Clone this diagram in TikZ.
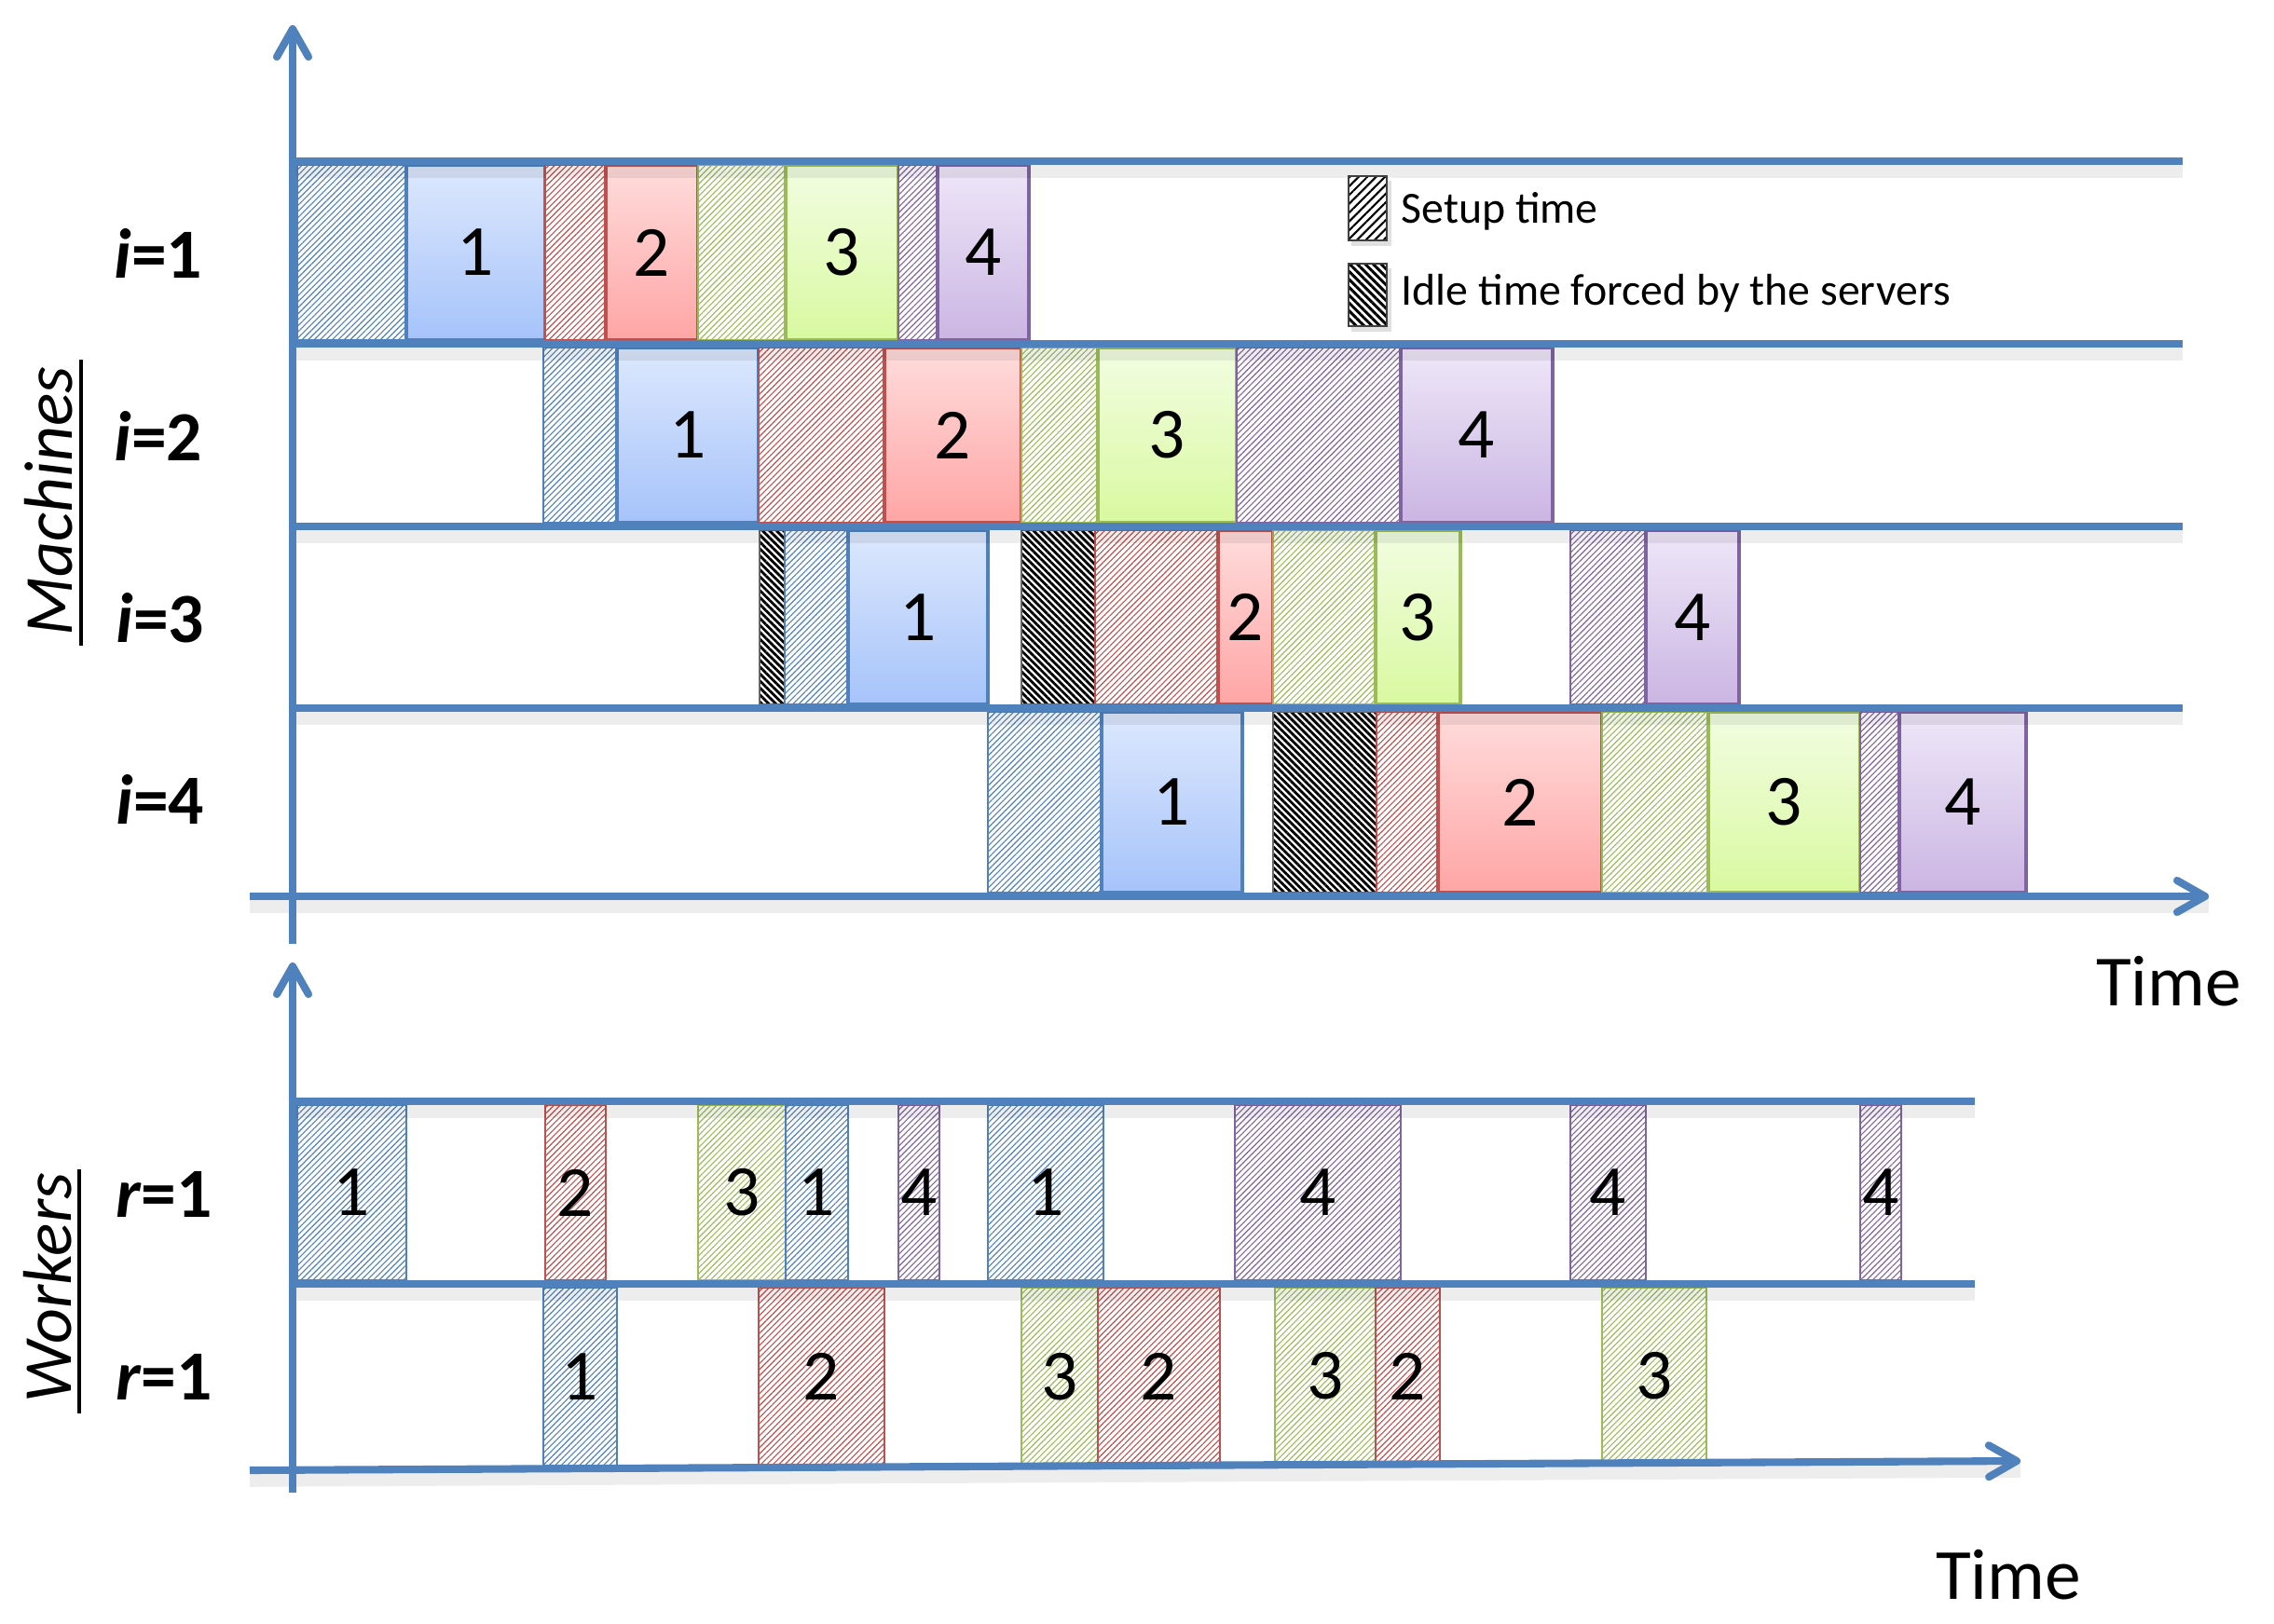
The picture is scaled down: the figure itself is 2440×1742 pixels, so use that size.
\documentclass[tikz,border=0pt]{standalone}
\usepackage{fontspec}
\setmainfont{Carlito}
\usetikzlibrary{patterns.meta,arrows.meta}

\definecolor{axisblue}{HTML}{4F81BD}
\definecolor{Bline}{HTML}{4F81BD}
\definecolor{Btop}{HTML}{DDE8FD}
\definecolor{Bbot}{HTML}{A6C3FA}
\definecolor{Rline}{HTML}{C0504D}
\definecolor{Rtop}{HTML}{FFDCDC}
\definecolor{Rbot}{HTML}{FFA5A5}
\definecolor{Gline}{HTML}{9BBB59}
\definecolor{Gtop}{HTML}{F2FDE2}
\definecolor{Gbot}{HTML}{D9F9A0}
\definecolor{Pline}{HTML}{8064A2}
\definecolor{Ptop}{HTML}{EEE7F8}
\definecolor{Pbot}{HTML}{CBB5E3}

\newcount\dignum
% processing bar: x1 x2 y1 y2 colour label
\newcommand\pbar[6]{%
  \shade[top color=#5top,bottom color=#5bot] (#1,#3) rectangle (#2,#4);
  \draw[#5line,line width=0.9pt] (#1,#3) rectangle (#2,#4);
  \global\advance\dignum by 1\relax
  \node[digit] (d\the\dignum) at ({(#1+#2)/2},{(#3+#4)/2}) {#6};}
% setup bar: x1 x2 y1 y2 colour
\newcommand\sbar[5]{%
  \fill[white] (#1,#3) rectangle (#2,#4);
  \fill[setuphatch,pattern color=#5line] (#1,#3) rectangle (#2,#4);
  \draw[#5line,line width=0.8pt] (#1,#3) rectangle (#2,#4);}
% idle bar: x1 x2 y1 y2
\newcommand\ibar[4]{%
  \fill[white] (#1,#3) rectangle (#2,#4);
  \fill[idlehatch,pattern color=black] (#1,#3) rectangle (#2,#4);
  \draw[black!60,line width=0.5pt] (#1,#3) rectangle (#2,#4);}
% worker bar: x1 x2 y1 y2 colour label
\newcommand\wbar[6]{%
  \sbar{#1}{#2}{#3}{#4}{#5}%
  \global\advance\dignum by 1\relax
  \node[digit] (d\the\dignum) at ({(#1+#2)/2},{(#3+#4)/2}) {#6};}

\begin{document}
\begin{tikzpicture}[x=0.1mm,y=-0.1mm,
  setuphatch/.style={pattern={Lines[angle=45,distance=1.3pt,line width=0.32pt]}},
  idlehatch/.style={pattern={Lines[angle=-45,distance=1.5pt,line width=0.8pt]}},
  digit/.style={inner sep=0pt,font=\fontsize{22}{26}\selectfont},
  rowlab/.style={inner sep=0pt,font=\fontsize{21.5}{26}\selectfont\bfseries},
  sidelab/.style={inner sep=0pt,rotate=90,font=\fontsize{21}{25}\selectfont\itshape},
  timelab/.style={inner sep=0pt,font=\fontsize{22}{26}\selectfont},
  legtext/.style={inner sep=0pt,anchor=base west,font=\fontsize{13.6}{16}\selectfont},
  axisline/.style={axisblue,line width=2.3pt},
  arrowtip/.style={-{Straight Barb[length=3mm,width=3.4mm,round]}},
  shadowline/.style={black,opacity=0.07,line width=5pt}]

\fill[white] (0,0) rectangle (2440,1742);
\useasboundingbox (0,0) rectangle (2440,1742);

% ---------------- coordinates ----------------
\coordinate (mBot) at (314,1013);
\coordinate (mTop) at (314,27);
\coordinate (mAxL) at (268,962);
\coordinate (mAxR) at (2370,962);
\coordinate (l1L) at (314,173); \coordinate (l1R) at (2342,173);
\coordinate (l2L) at (314,369); \coordinate (l2R) at (2342,369);
\coordinate (l3L) at (314,565); \coordinate (l3R) at (2342,565);
\coordinate (l4L) at (314,760); \coordinate (l4R) at (2342,760);

\coordinate (wBot) at (314,1602);
\coordinate (wTop) at (314,1033);
\coordinate (wAxL) at (268,1578);
\coordinate (wAxR) at (2168,1568);
\coordinate (w1L) at (314,1182); \coordinate (w1R) at (2119,1182);
\coordinate (w2L) at (314,1378); \coordinate (w2R) at (2119,1378);

% ---------------- machine rows ----------------
% i=1
\sbar{319}{436}{177}{365}{B}
\pbar{436}{585}{177}{365}{B}{1}
\sbar{585}{650}{177}{365}{R}
\pbar{650}{749}{177}{365}{R}{2}
\sbar{749}{843}{177}{365}{G}
\pbar{843}{964}{177}{365}{G}{3}
\sbar{964}{1006}{177}{365}{P}
\pbar{1006}{1104}{177}{365}{P}{4}
% i=2
\sbar{583}{662}{373}{561}{B}
\pbar{662}{814}{373}{561}{B}{1}
\sbar{814}{949}{373}{561}{R}
\pbar{949}{1096}{373}{561}{R}{2}
\sbar{1096}{1178}{373}{561}{G}
\pbar{1178}{1327}{373}{561}{G}{3}
\sbar{1327}{1503}{373}{561}{P}
\pbar{1503}{1666}{373}{561}{P}{4}
% i=3
\ibar{815}{842}{569}{756}
\sbar{842}{910}{569}{756}{B}
\pbar{910}{1060}{569}{756}{B}{1}
\ibar{1096}{1175}{569}{756}
\sbar{1175}{1307}{569}{756}{R}
\pbar{1307}{1366}{569}{756}{R}{2}
\sbar{1366}{1476}{569}{756}{G}
\pbar{1476}{1567}{569}{756}{G}{3}
\sbar{1685}{1766}{569}{756}{P}
\pbar{1766}{1866}{569}{756}{P}{4}
% i=4
\sbar{1060}{1182}{764}{958}{B}
\pbar{1182}{1333}{764}{958}{B}{1}
\ibar{1366}{1477}{764}{958}
\sbar{1477}{1543}{764}{958}{R}
\pbar{1543}{1719}{764}{958}{R}{2}
\sbar{1719}{1833}{764}{958}{G}
\pbar{1833}{1996}{764}{958}{G}{3}
\sbar{1996}{2038}{764}{958}{P}
\pbar{2038}{2174}{764}{958}{P}{4}

% ---------------- worker rows ----------------
\wbar{319}{436}{1186}{1374}{B}{1}
\wbar{585}{650}{1186}{1374}{R}{2}
\wbar{749}{843}{1186}{1374}{G}{3}
\wbar{843}{910}{1186}{1374}{B}{1}
\wbar{964}{1008}{1186}{1374}{P}{4}
\wbar{1060}{1184}{1186}{1374}{B}{1}
\wbar{1325}{1503}{1186}{1374}{P}{4}
\wbar{1685}{1766}{1186}{1374}{P}{4}
\wbar{1996}{2040}{1186}{1374}{P}{4}

\wbar{583}{662}{1382}{1573}{B}{1}
\wbar{814}{949}{1382}{1573}{R}{2}
\wbar{1096}{1178}{1382}{1573}{G}{3}
\wbar{1178}{1309}{1382}{1573}{R}{2}
\wbar{1368}{1476}{1382}{1572}{G}{3}
\wbar{1476}{1545}{1382}{1572}{R}{2}
\wbar{1719}{1831}{1382}{1571}{G}{3}

% ---------------- shadows ----------------
\foreach \a/\b in {l1L/l1R,l2L/l2R,l3L/l3R,l4L/l4R,mAxL/mAxR,w1L/w1R,w2L/w2R,wAxL/wAxR}
  \draw[shadowline] ([yshift=-0.9mm]\a) -- ([yshift=-0.9mm]\b);

% ---------------- axes and row lines ----------------
\draw[axisline] (l1L) -- (l1R);
\draw[axisline] (l2L) -- (l2R);
\draw[axisline] (l3L) -- (l3R);
\draw[axisline] (l4L) -- (l4R);
\draw[axisline,arrowtip] (mAxL) -- (mAxR);
\draw[axisline,arrowtip] (mBot) -- (mTop);

\draw[axisline] (w1L) -- (w1R);
\draw[axisline] (w2L) -- (w2R);
\draw[axisline,arrowtip] (wAxL) -- (wAxR);
\draw[axisline,arrowtip] (wBot) -- (wTop);

% ---------------- legend ----------------
\fill[black,opacity=0.12] (1450,194) rectangle (1493,264);
\fill[white] (1447,189) rectangle (1488,258);
\fill[pattern={Lines[angle=45,distance=1.9pt,line width=0.6pt]},pattern color=black] (1447,189) rectangle (1488,258);
\draw[black!75,line width=0.6pt] (1447,189) rectangle (1488,258);
\node[legtext] (legsetup) at (1503,240) {Setup time};

\fill[black,opacity=0.12] (1450,288) rectangle (1493,356);
\fill[white] (1447,283) rectangle (1488,350);
\fill[pattern={Lines[angle=-45,distance=1.7pt,line width=0.85pt]},pattern color=black] (1447,283) rectangle (1488,350);
\draw[black!75,line width=0.6pt] (1447,283) rectangle (1488,350);
\node[legtext] (legidle) at (1503,327) {Idle time forced by the servers};

% ---------------- labels ----------------
\node[rowlab] (i1) at (170,272) {\textit{i}=1};
\node[rowlab] (i2) at (170,468) {\textit{i}=2};
\node[rowlab] (i3) at (172,663) {\textit{i}=3};
\node[rowlab] (i4) at (172,858) {\textit{i}=4};
\node[rowlab] (r1a) at (176,1282) {\textit{r}=1};
\node[rowlab] (r1b) at (176,1478) {\textit{r}=1};

\node[sidelab] (mach) at (52,538) {Machines};
\draw[black,line width=1.1pt] (87,386) -- (87,693);
\node[sidelab] (work) at (51,1382) {Workers};
\draw[black,line width=1.1pt] (85,1255) -- (85,1517);

\node[timelab] (time1) at (2327,1053) {Time};
\node[timelab] (time2) at (2155,1690) {Time};
\end{tikzpicture}
\end{document}
